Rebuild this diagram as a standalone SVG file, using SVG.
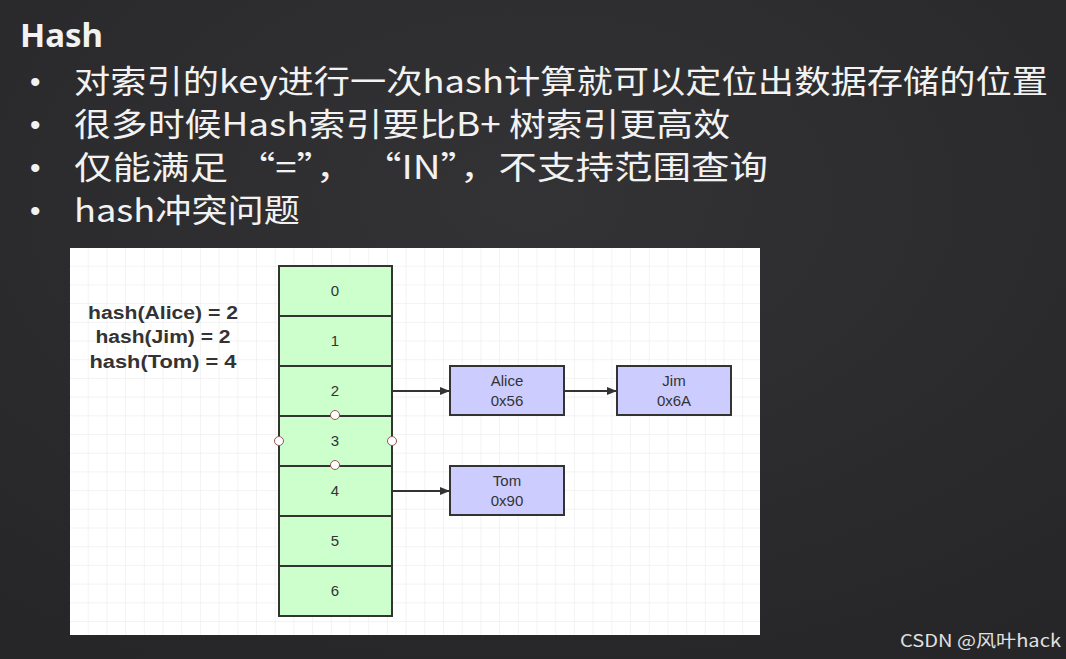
<svg xmlns="http://www.w3.org/2000/svg" width="1066" height="659" viewBox="0 0 1066 659">
<defs>
<pattern id="grid" width="18.7" height="18.7" patternUnits="userSpaceOnUse" x="70" y="248"><path d="M18.7 0V18.7H0" fill="none" stroke="#e8e8e8" stroke-width="1"/></pattern>
<marker id="arr" markerWidth="10" markerHeight="8" refX="9" refY="4" orient="auto" markerUnits="userSpaceOnUse"><path d="M0 0L10 4L0 8Z" fill="#333"/></marker>
<radialGradient id="bg" cx="0.5" cy="0.3" r="0.8"><stop offset="0" stop-color="#333335"/><stop offset="1" stop-color="#262628"/></radialGradient>
</defs>
<style>
.t{font-family:"Noto Sans CJK SC","Noto Sans",sans-serif;fill:#f2f2f2;font-size:32px}
.b{font-family:"Liberation Sans",sans-serif;fill:#f2f2f2;font-size:30px}
.cell{fill:#ccffcc;stroke:#333;stroke-width:2}
.box{fill:#ccccff;stroke:#333;stroke-width:2}
.l{font-family:"Liberation Sans",sans-serif;font-size:15px;fill:#333;text-anchor:middle}
.h{font-family:"Liberation Sans",sans-serif;font-weight:bold;font-size:18px;fill:#333;text-anchor:middle}
.c{fill:#fff;stroke:#a05050;stroke-width:1}
.e{stroke:#333;stroke-width:2;fill:none;marker-end:url(#arr)}
</style>
<rect width="1066" height="659" fill="url(#bg)"/>
<text x="20" y="47" fill="#f2f2f2" font-size="33" font-weight="bold" font-family="Noto Sans,sans-serif">Hash</text>
<g>
<text class="b" x="30" y="92">•</text><text class="t" x="74" y="93" textLength="974" lengthAdjust="spacingAndGlyphs">对索引的key进行一次hash计算就可以定位出数据存储的位置</text>
<text class="b" x="30" y="135">•</text><text class="t" x="74" y="136" textLength="656" lengthAdjust="spacingAndGlyphs">很多时候Hash索引要比B+ 树索引更高效</text>
<text class="b" x="30" y="178">•</text><text class="t" x="74" y="179" textLength="694" lengthAdjust="spacingAndGlyphs">仅能满足 “=”， “IN”，不支持范围查询</text>
<text class="b" x="30" y="221">•</text><text class="t" x="74" y="222" textLength="226" lengthAdjust="spacingAndGlyphs">hash冲突问题</text>
</g>
<rect x="70" y="248" width="690" height="387" fill="#fff"/>
<rect x="70" y="248" width="690" height="387" fill="url(#grid)"/>
<g id="labels"><text class="h" x="163" y="319" textLength="150" lengthAdjust="spacingAndGlyphs">hash(Alice) = 2</text><text class="h" x="163" y="343" textLength="135" lengthAdjust="spacingAndGlyphs">hash(Jim) = 2</text><text class="h" x="163" y="368" textLength="147" lengthAdjust="spacingAndGlyphs">hash(Tom) = 4</text></g>
<g id="c0"><rect class="cell" x="279" y="266" width="113" height="50"/><text class="l" x="335" y="296">0</text></g>
<g id="c1"><rect class="cell" x="279" y="316" width="113" height="50"/><text class="l" x="335" y="346">1</text></g>
<g id="c2"><rect class="cell" x="279" y="366" width="113" height="50"/><text class="l" x="335" y="396">2</text></g>
<g id="c3"><rect class="cell" x="279" y="416" width="113" height="50"/><text class="l" x="335" y="446">3</text></g>
<g id="c4"><rect class="cell" x="279" y="466" width="113" height="50"/><text class="l" x="335" y="496">4</text></g>
<g id="c5"><rect class="cell" x="279" y="516" width="113" height="50"/><text class="l" x="335" y="546">5</text></g>
<g id="c6"><rect class="cell" x="279" y="566" width="113" height="50"/><text class="l" x="335" y="596">6</text></g>
<g id="alice"><rect class="box" x="450" y="366" width="114" height="49"/><text class="l" x="507" y="386">Alice</text><text class="l" x="507" y="406">0x56</text></g>
<g id="jim"><rect class="box" x="617" y="366" width="114" height="49"/><text class="l" x="674" y="386">Jim</text><text class="l" x="674" y="406">0x6A</text></g>
<g id="tom"><rect class="box" x="450" y="466" width="114" height="49"/><text class="l" x="507" y="486">Tom</text><text class="l" x="507" y="506">0x90</text></g>
<g id="connectors">
<path class="e" d="M392 391H449"/><path class="e" d="M564 391H616"/><path class="e" d="M392 491H449"/>
</g>
<g id="handles"><circle class="c" cx="335" cy="415" r="4.5"/><circle class="c" cx="335" cy="465" r="4.5"/><circle class="c" cx="279" cy="441" r="4.5"/><circle class="c" cx="392" cy="441" r="4.5"/></g>
<text x="1061" y="647" text-anchor="end" font-family="Noto Sans CJK SC,sans-serif" font-size="17" fill="#e0e0e0" textLength="161" lengthAdjust="spacingAndGlyphs">CSDN @风叶hack</text>
</svg>
